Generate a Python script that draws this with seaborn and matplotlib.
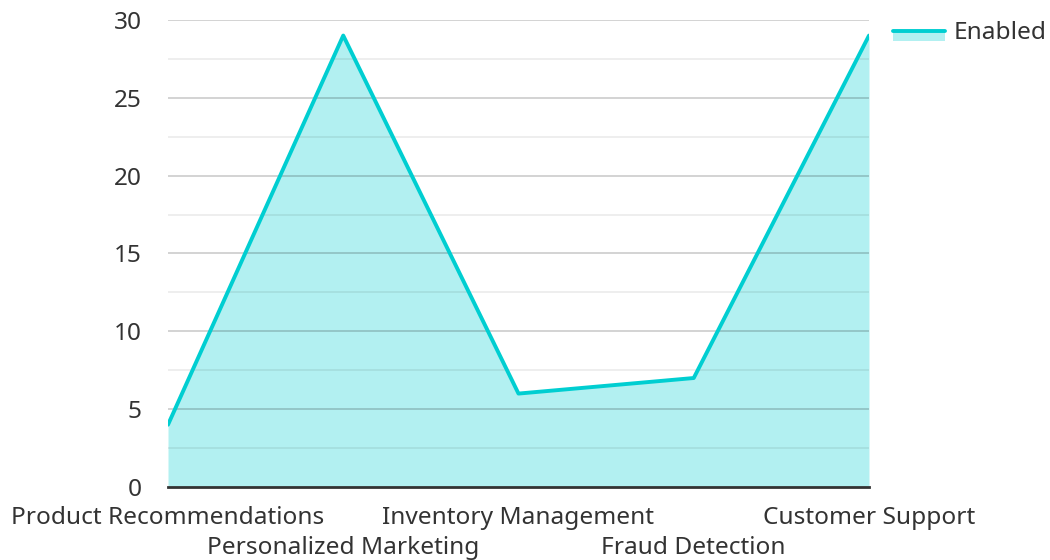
import matplotlib
matplotlib.use("Agg")
import matplotlib.pyplot as plt
import seaborn as sns
import numpy as np
import pandas as pd
from matplotlib.lines import Line2D
from matplotlib.patches import Rectangle
from matplotlib.legend_handler import HandlerBase

categories = ["Product Recommendations", "Personalized Marketing",
              "Inventory Management", "Fraud Detection", "Customer Support"]
enabled = [4, 29, 6, 7, 29]
y_ticks = [0, 5, 10, 15, 20, 25, 30]

line_color = "#00CED1"
text_color = "#333333"
fsize = 17.6


class AreaHandler(HandlerBase):
    # line on top, light fill below it
    def create_artists(self, legend, orig, xdescent, ydescent, width, height, fontsize, trans):
        mid = height / 2 - ydescent
        rect = Rectangle((-xdescent, mid - height * 0.62), width, height * 0.62,
                         facecolor=line_color, alpha=0.3, lw=0, transform=trans)
        line = Line2D([-xdescent, -xdescent + width], [mid, mid], color=line_color,
                      lw=2.8, transform=trans)
        return [rect, line]


sns.set_theme(style="white")
plt.rcParams['font.family'] = ['Noto Sans', 'DejaVu Sans']

df = pd.DataFrame({"feature": categories, "count": enabled})
pos = np.arange(len(categories))

fig = plt.figure(figsize=(10.5, 5.6), dpi=100)
ax = fig.add_axes([0.16, 0.1304, 0.6676, 0.8339])

# grid drawn over the fill, semi-transparent
for v in np.arange(2.5, 30, 5):
    ax.axhline(v, color="black", alpha=0.08, lw=1.2, zorder=3)
for v in y_ticks[1:]:
    ax.axhline(v, color="black", alpha=0.2, lw=1.2, zorder=3)

ax.fill_between(pos, enabled, 0, color=line_color, alpha=0.3, lw=0, zorder=2)
sns.lineplot(x=pos, y=df["count"], ax=ax, color=line_color, lw=2.8, zorder=4)

ax.set_xlim(0, len(categories) - 1)
ax.set_ylim(0, 30)
ax.set_yticks(y_ticks)
ax.set_yticklabels([str(t) for t in y_ticks], fontsize=fsize, color=text_color)
ax.set_xticks(pos)
ax.set_xticklabels(categories, fontsize=fsize, color=text_color)
ax.tick_params(axis="y", length=0, pad=19)
ax.tick_params(axis="x", length=0, pad=13.5)
# stagger the x labels on two rows
for i, tick in enumerate(ax.xaxis.get_major_ticks()):
    if i % 2 == 1:
        tick.set_pad(35)
ax.set_xlabel("")
ax.set_ylabel("")

for s in ["left", "right", "top"]:
    ax.spines[s].set_visible(False)
ax.spines["bottom"].set_color(text_color)
ax.spines["bottom"].set_linewidth(2)
ax.spines["bottom"].set_zorder(5)

leg = ax.legend([object()], ["Enabled"], handler_map={object: AreaHandler()},
                loc="upper left", bbox_to_anchor=(1.034, 0.997), frameon=False,
                fontsize=fsize, handlelength=2.15, handletextpad=0.32,
                borderpad=0, borderaxespad=0)
for t in leg.get_texts():
    t.set_color(text_color)

plt.savefig("out.png", dpi=100)
